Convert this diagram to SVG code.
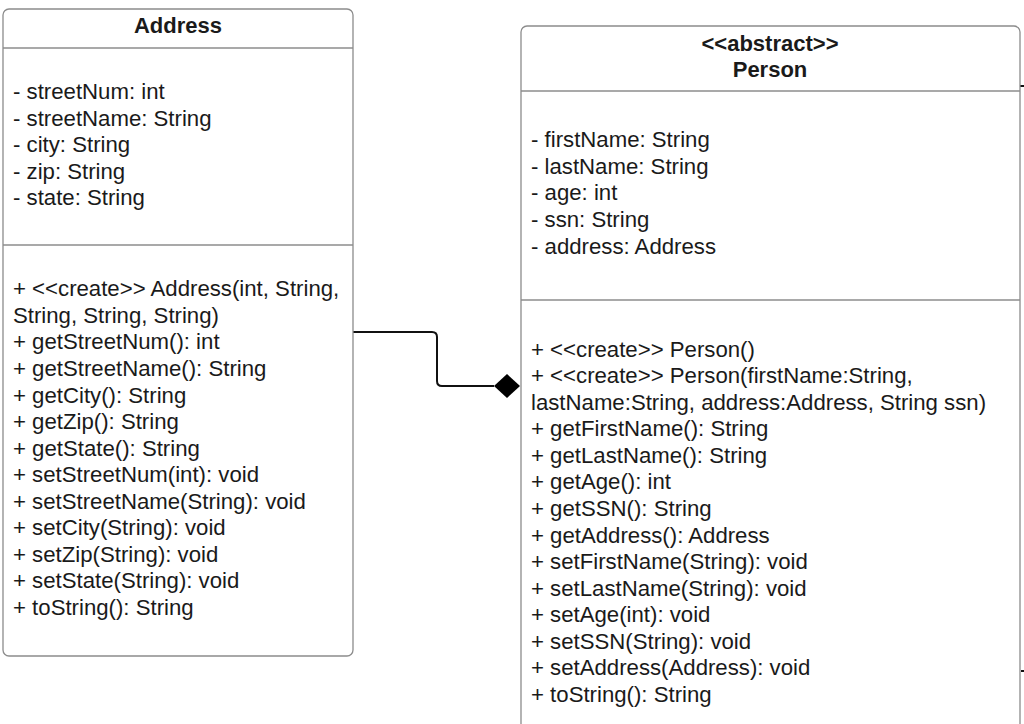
<svg xmlns="http://www.w3.org/2000/svg" width="1024" height="724" viewBox="0 0 1024 724">
<style>
.box{fill:#fff;stroke:#8c8c8c;stroke-width:1.3}
.div{stroke:#8c8c8c;stroke-width:1.3}
.t{font-family:"Liberation Sans",Arial,sans-serif;font-size:22.2px;fill:#1a1a1a}
.h{font-family:"Liberation Sans",Arial,sans-serif;font-size:22px;font-weight:bold;fill:#1a1a1a;text-anchor:middle}
.c{fill:none;stroke:#111;stroke-width:2}
</style>
<rect width="1024" height="724" fill="#fff"/>
<g id="connectors">
<path class="c" d="M353 332 H432 Q437 332 437 337 V381 Q437 386 442 386 H494"/>
<polygon points="494,386 507,374 520,386 507,398" fill="#000"/>
<line x1="1020" y1="86" x2="1024" y2="86" stroke="#111" stroke-width="2"/>
<line x1="1021" y1="671" x2="1024" y2="671" stroke="#111" stroke-width="2"/>
</g>
<g id="address">
<rect class="box" x="3" y="9" width="350" height="647" rx="6"/>
<line class="div" x1="3" y1="48" x2="353" y2="48"/>
<line class="div" x1="3" y1="245" x2="353" y2="245"/>
<text class="h" x="178" y="33">Address</text>
<text class="t" x="13" y="99">- streetNum: int</text>
<text class="t" x="13" y="126">- streetName: String</text>
<text class="t" x="13" y="152">- city: String</text>
<text class="t" x="13" y="179">- zip: String</text>
<text class="t" x="13" y="205">- state: String</text>
<text class="t" x="13" y="296">+ &lt;&lt;create&gt;&gt; Address(int, String,</text>
<text class="t" x="13" y="323">String, String, String)</text>
<text class="t" x="13" y="349">+ getStreetNum(): int</text>
<text class="t" x="13" y="376">+ getStreetName(): String</text>
<text class="t" x="13" y="403">+ getCity(): String</text>
<text class="t" x="13" y="429">+ getZip(): String</text>
<text class="t" x="13" y="456">+ getState(): String</text>
<text class="t" x="13" y="482">+ setStreetNum(int): void</text>
<text class="t" x="13" y="509">+ setStreetName(String): void</text>
<text class="t" x="13" y="535">+ setCity(String): void</text>
<text class="t" x="13" y="562">+ setZip(String): void</text>
<text class="t" x="13" y="588">+ setState(String): void</text>
<text class="t" x="13" y="615">+ toString(): String</text>
</g>
<g id="person">
<rect class="box" x="521" y="26" width="499" height="720" rx="6"/>
<line class="div" x1="521" y1="91" x2="1020" y2="91"/>
<line class="div" x1="521" y1="300" x2="1020" y2="300"/>
<text class="h" x="770" y="51">&lt;&lt;abstract&gt;&gt;</text>
<text class="h" x="770" y="77">Person</text>
<text class="t" x="531" y="147">- firstName: String</text>
<text class="t" x="531" y="174">- lastName: String</text>
<text class="t" x="531" y="200">- age: int</text>
<text class="t" x="531" y="227">- ssn: String</text>
<text class="t" x="531" y="254">- address: Address</text>
<text class="t" x="531" y="357">+ &lt;&lt;create&gt;&gt; Person()</text>
<text class="t" x="531" y="383">+ &lt;&lt;create&gt;&gt; Person(firstName:String,</text>
<text class="t" x="531" y="410">lastName:String, address:Address, String ssn)</text>
<text class="t" x="531" y="436">+ getFirstName(): String</text>
<text class="t" x="531" y="463">+ getLastName(): String</text>
<text class="t" x="531" y="489">+ getAge(): int</text>
<text class="t" x="531" y="516">+ getSSN(): String</text>
<text class="t" x="531" y="543">+ getAddress(): Address</text>
<text class="t" x="531" y="569">+ setFirstName(String): void</text>
<text class="t" x="531" y="596">+ setLastName(String): void</text>
<text class="t" x="531" y="622">+ setAge(int): void</text>
<text class="t" x="531" y="649">+ setSSN(String): void</text>
<text class="t" x="531" y="675">+ setAddress(Address): void</text>
<text class="t" x="531" y="702">+ toString(): String</text>
</g>
</svg>
